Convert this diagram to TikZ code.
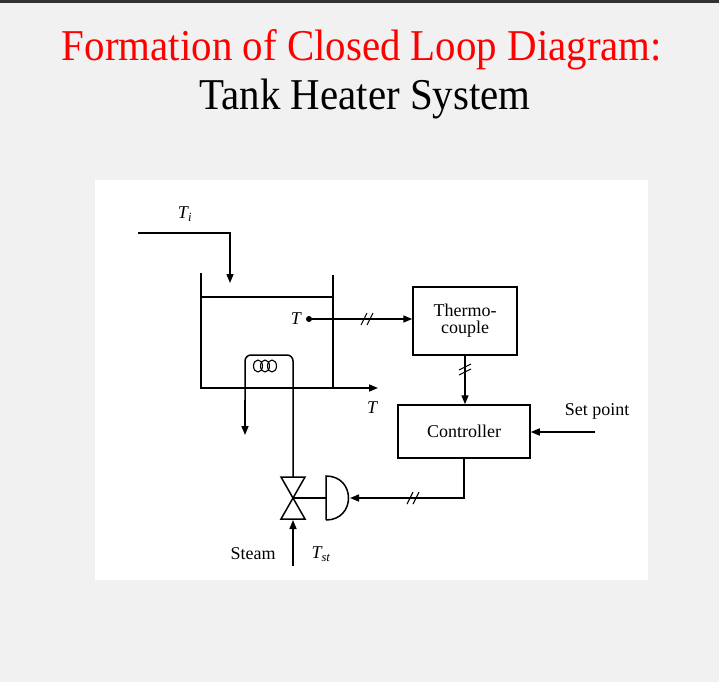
\documentclass[tikz,border=0pt]{standalone}
\usepackage{fontspec}
\setmainfont{Liberation Serif}
\usetikzlibrary{arrows.meta}
\begin{document}
\begin{tikzpicture}[x=1pt,y=-1pt,
  ln/.style={line width=1.5pt},
  ar/.style={ln,-{Triangle[length=9pt,width=7pt]}},
  txt/.style={font=\fontsize{18}{20}\selectfont,inner sep=1pt},
  box/.style={draw,line width=1.5pt,inner sep=0pt,font=\fontsize{18}{17}\selectfont,align=center},
  lab/.style={font=\fontsize{18}{20}\selectfont\itshape,inner sep=1pt}]
\fill[black!80] (0,0) rectangle (719,3);
\fill[black!5.5] (0,3) rectangle (719,682);
\useasboundingbox (0,0) rectangle (719,682);
\fill[white] (95,180) rectangle (648,580);
\node[red,font=\fontsize{44}{46}\selectfont,xscale=0.93] (t1) at (362,50) {Formation of Closed Loop Diagram:};
\node[font=\fontsize{44}{46}\selectfont,xscale=0.93] (t2) at (365,99) {Tank Heater System};
% inlet
\coordinate (in0) at (138,233); \coordinate (in1) at (230,233); \coordinate (in2) at (230,283);
\draw[ar] (in0) -- (in1) -- (in2);
\node[lab] (Ti) at (185,214) {T\textsubscript{\itshape i}};
% tank
\coordinate (tl) at (201,273); \coordinate (tr) at (333,275);
\coordinate (bl) at (201,388); \coordinate (br) at (333,388); \coordinate (out) at (378,388);
\draw[ln] (tl) -- (bl) -- (br) -- (tr);
\draw[ar] (br) -- (out);
\node[lab] (To) at (372,408) {T};
\draw[line width=1.2pt] (201,297) -- (333,297);
% sensor
\coordinate (dot) at (309,319);
\fill (dot) circle (3pt);
\node[lab,anchor=east] (Tt) at (302,319) {T};
\node[box,minimum width=104pt,minimum height=68pt] (tc) at (465,321) {Thermo-\\couple};
\draw[ar] (dot) -- (dot -| tc.west);
\draw[line width=1.1pt] (361,325) -- (367,313) (367,325) -- (373,313);
\node[box,minimum width=132pt,minimum height=53pt] (ctrl) at (464,431.5) {Controller};
\draw[ar] (tc.south) -- (ctrl.north -| tc.south);
\draw[line width=1.1pt] (459,370) -- (471,364) (459,375) -- (471,369);
\coordinate (sp) at (595,432);
\draw[ar] (sp) -- (ctrl.east |- sp);
\node[txt] (spl) at (597,411) {Set point};
% coil
\coordinate (cl) at (245,435); \coordinate (cr) at (293,477);
\draw[ln,rounded corners=6pt] (245,430) -- (245,355) -- (293,355) -- (cr);
\draw[ar] (245,400) -- (cl);
\foreach \x in {258,265,272} \draw[line width=1.1pt] (\x,366) ellipse (4.5pt and 6pt);
% valve
\coordinate (v) at (293,498);
\draw[ln] (281,477) -- (305,477) -- (281,519) -- (305,519) -- cycle;
\draw[ln] (v) -- (326,498);
\draw[ln] (326,520) -- (326,476) .. controls (356,476) and (356,520) .. (326,520);
\coordinate (act) at (350,498);
\draw[ar] (ctrl.south) |- (act);
\draw[line width=1.1pt] (407,504) -- (413,492) (413,504) -- (419,492);
% steam
\coordinate (st) at (293,566);
\draw[ar] (st) -- (293,520);
\node[txt] (stl) at (253,554) {Steam};
\node[lab] (Tst) at (321,554) {T\textsubscript{st}};
\end{tikzpicture}
\end{document}
